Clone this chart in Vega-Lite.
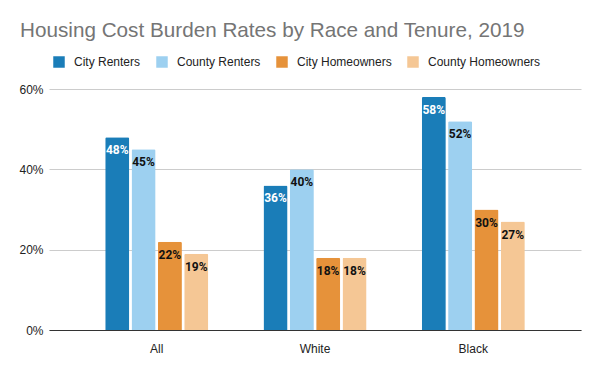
{
  "$schema": "https://vega.github.io/schema/vega-lite/v6.json",
  "width": 532,
  "height": 241,
  "autosize": {"type": "none"},
  "padding": {"left": 49, "top": 89, "right": 19, "bottom": 41},
  "background": "white",
  "config": {"view": {"stroke": null}},
  "title": {
    "text": "Housing Cost Burden Rates by Race and Tenure, 2019",
    "anchor": "start",
    "frame": "group",
    "dx": -29,
    "offset": 14,
    "font": "Liberation Sans",
    "fontSize": 20.7,
    "fontWeight": "normal",
    "color": "#757575"
  },
  "data": {
    "values": [
      {"group": "All", "series": "City Renters", "value": 0.48},
      {"group": "All", "series": "County Renters", "value": 0.45},
      {"group": "All", "series": "City Homeowners", "value": 0.22},
      {"group": "All", "series": "County Homeowners", "value": 0.19},
      {"group": "White", "series": "City Renters", "value": 0.36},
      {"group": "White", "series": "County Renters", "value": 0.40},
      {"group": "White", "series": "City Homeowners", "value": 0.18},
      {"group": "White", "series": "County Homeowners", "value": 0.18},
      {"group": "Black", "series": "City Renters", "value": 0.58},
      {"group": "Black", "series": "County Renters", "value": 0.52},
      {"group": "Black", "series": "City Homeowners", "value": 0.30},
      {"group": "Black", "series": "County Homeowners", "value": 0.27}
    ]
  },
  "encoding": {
    "x": {
      "field": "group",
      "type": "nominal",
      "sort": ["All", "White", "Black"],
      "scale": {"paddingInner": 0.349, "paddingOuter": 0.355},
      "axis": {
        "title": null,
        "labelAngle": 0,
        "ticks": false,
        "domainColor": "#333333",
        "domainWidth": 1,
        "labelFont": "Liberation Sans",
        "labelFontSize": 12,
        "labelColor": "#222222",
        "labelPadding": 13,
        "grid": false
      }
    },
    "xOffset": {
      "field": "series",
      "type": "nominal",
      "sort": ["City Renters", "County Renters", "City Homeowners", "County Homeowners"],
      "scale": {"paddingInner": 0.087, "paddingOuter": 0}
    },
    "y": {
      "field": "value",
      "type": "quantitative",
      "scale": {"domain": [0, 0.6], "nice": false},
      "axis": {
        "title": null,
        "format": ".0%",
        "values": [0, 0.2, 0.4, 0.6],
        "domain": false,
        "ticks": false,
        "gridColor": "#cccccc",
        "gridWidth": 1,
        "labelFont": "Liberation Sans",
        "labelFontSize": 12,
        "labelColor": "#222222",
        "labelPadding": 6
      }
    }
  },
  "layer": [
    {
      "mark": {"type": "bar", "cornerRadiusTopLeft": 1.5, "cornerRadiusTopRight": 1.5},
      "encoding": {
        "color": {
          "field": "series",
          "type": "nominal",
          "sort": ["City Renters", "County Renters", "City Homeowners", "County Homeowners"],
          "scale": {
            "domain": ["City Renters", "County Renters", "City Homeowners", "County Homeowners"],
            "range": ["#1a7db8", "#9dd0f0", "#e6923a", "#f5c795"]
          },
          "legend": {
            "title": null,
            "orient": "none",
            "direction": "horizontal",
            "legendX": 4,
            "legendY": -33,
            "symbolType": "square",
            "symbolSize": 132,
            "symbolStrokeWidth": 0,
            "symbolOpacity": 1,
            "labelFont": "Liberation Sans",
            "labelFontSize": 12,
            "labelColor": "#222222",
            "labelOffset": 9,
            "columnPadding": 15
          }
        }
      }
    },
    {
      "mark": {
        "type": "text",
        "baseline": "alphabetic",
        "align": "center",
        "dy": 17,
        "font": "Roboto",
        "fontWeight": "bold",
        "fontSize": 12
      },
      "encoding": {
        "text": {"field": "value", "type": "quantitative", "format": ".0%"},
        "color": {
          "condition": {"test": "datum.series === 'City Renters'", "value": "#ffffff"},
          "value": "#111111"
        }
      }
    }
  ]
}
